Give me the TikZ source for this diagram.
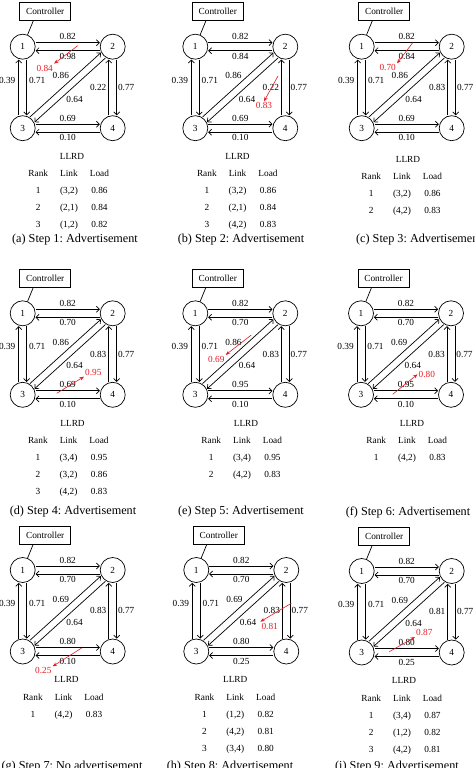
\documentclass[tikz,border=0pt]{standalone}
\usepackage{fontspec}
\setmainfont{Liberation Serif}
\usetikzlibrary{arrows.meta,positioning,matrix}
\frenchspacing

\definecolor{hotred}{RGB}{228,28,36}
\newcommand\smallfont{\fontsize{9.3}{11}\selectfont}
\newcommand\capfont{\fontsize{12.2}{14}\selectfont}

% one snapshot of the network: #1 prefix, #2-#6 the loads that change
\newcommand\stepgraph[6]{%
  \node[station] (#1-1) at (0,0) {1};
  \node[station] (#1-2) at (90,0) {2};
  \node[station] (#1-3) at (0,81.5) {3};
  \node[station] (#1-4) at (90,81.5) {4};
  \node[ctrlbox] (#1-c) at (22.5,-35) {Controller};
  \draw[line width=0.7pt] (#1-1) -- ([xshift=-12pt]#1-c.south);
  \draw[link,transform canvas={yshift=4pt}] (#1-1) -- node[above=1.5pt] {0.82} (#1-2);
  \draw[link,transform canvas={yshift=-4pt}] (#1-2) -- node[below=1pt] {#2} (#1-1);
  \draw[link,transform canvas={xshift=-4pt}] (#1-3) -- node[pos=0.63,left=2pt] {0.39} (#1-1);
  \draw[link,transform canvas={xshift=4pt}] (#1-1) -- node[pos=0.37,right=1pt] {0.71} (#1-3);
  \draw[link,transform canvas={shift={(-2.3pt,2.6pt)}}] (#1-3) -- node[pos=0.57,above left=0pt] {#3} (#1-2);
  \draw[link,transform canvas={shift={(2.3pt,-2.6pt)}}] (#1-2) -- node[pos=0.57,below right=0pt] {0.64} (#1-3);
  \draw[link,transform canvas={xshift=-4pt}] (#1-4) -- node[left=1pt] {#4} (#1-2);
  \draw[link,transform canvas={xshift=4pt}] (#1-2) -- node[right=0pt] {0.77} (#1-4);
  \draw[link,transform canvas={yshift=4pt}] (#1-3) -- node[above=1.5pt] {#5} (#1-4);
  \draw[link,transform canvas={yshift=-4pt}] (#1-4) -- node[below=1pt] {#6} (#1-3);
}

\begin{document}
\begin{tikzpicture}[x=1pt, y=-1pt,
    every node/.style={font=\smallfont, inner sep=1pt},
    station/.style={draw, circle, minimum size=25pt, inner sep=0pt, line width=0.7pt},
    ctrlbox/.style={draw, rectangle, minimum width=51pt, minimum height=18pt, inner sep=0pt, line width=0.7pt},
    link/.style={line width=0.7pt, -{Straight Barb[length=3pt,width=6pt]}},
    hot/.style={text=hotred},
    hotarrow/.style={draw=hotred, line width=0.6pt, -{Stealth[length=4.5pt,width=3.5pt]}},
    cell/.style={inner sep=0pt, text height=7pt, text depth=2pt},
    llrd/.style={matrix of nodes, anchor=north, row sep=8pt, column sep=12pt, nodes={cell}},
    captext/.style={font=\capfont}]
  \useasboundingbox (0,0) rectangle (474,768);

  % (a)
  \begin{scope}[shift={(22.7,46.7)}]
    \stepgraph{a}{0.98}{0.86}{0.22}{0.69}{0.10}
    \coordinate (a-s) at (55,-1);
    \node[hot] (a-v) at (22,21.3) {0.84};
    \draw[hotarrow] (a-s) -- (a-v.north east);
    \matrix[llrd] (a-t) at (46,122) {
      Rank & Link & Load \\
      1 & (3,2) & 0.86 \\
      2 & (2,1) & 0.84 \\
      3 & (1,2) & 0.82 \\};
    \node[cell, above=8pt of a-t-1-2, xshift=3pt] (a-l) {LLRD};
  \end{scope}
  \node[captext] (a-cap) at (75,240) {(a) Step 1: Advertisement};

  % (b)
  \begin{scope}[shift={(195.3,46.7)}]
    \stepgraph{b}{0.84}{0.86}{0.22}{0.69}{0.10}
    \coordinate (b-s) at (82.7,29.3);
    \node[hot] (b-v) at (68.7,59) {0.83};
    \draw[hotarrow] (b-s) -- (b-v.north);
    \matrix[llrd] (b-t) at (42,122) {
      Rank & Link & Load \\
      1 & (3,2) & 0.86 \\
      2 & (2,1) & 0.84 \\
      3 & (4,2) & 0.83 \\};
    \node[cell, above=8pt of b-t-1-2] (b-l) {LLRD};
  \end{scope}
  \node[captext] (b-cap) at (241,240) {(b) Step 2: Advertisement};

  % (c)
  \begin{scope}[shift={(361.7,46.7)}]
    \stepgraph{c}{0.84}{0.86}{0.83}{0.69}{0.10}
    \coordinate (c-s) at (51,-4);
    \node[hot] (c-v) at (26,21) {0.70};
    \draw[hotarrow] (c-s) -- (c-v.north east);
    \matrix[llrd] (c-t) at (40,125) {
      Rank & Link & Load \\
      1 & (3,2) & 0.86 \\
      2 & (4,2) & 0.83 \\};
    \node[cell, above=8pt of c-t-1-2, xshift=6pt] (c-l) {LLRD};
  \end{scope}
  \node[captext] (c-cap) at (419,240) {(c) Step 3: Advertisement};

  % (d)
  \begin{scope}[shift={(22.7,313.3)}]
    \stepgraph{d}{0.70}{0.86}{0.83}{0.69}{0.10}
    \coordinate (d-s) at (34,80);
    \node[hot] (d-v) at (70.6,59) {0.95};
    \draw[hotarrow] (d-s) -- (d-v.south west);
    \matrix[llrd] (d-t) at (45.6,122) {
      Rank & Link & Load \\
      1 & (3,4) & 0.95 \\
      2 & (3,2) & 0.86 \\
      3 & (4,2) & 0.83 \\};
    \node[cell, above=8pt of d-t-1-2, xshift=4pt] (d-l) {LLRD};
  \end{scope}
  \node[captext] (d-cap) at (73,512) {(d) Step 4: Advertisement};

  % (e)
  \begin{scope}[shift={(195.3,313.3)}]
    \stepgraph{e}{0.70}{0.86}{0.83}{0.95}{0.10}
    \coordinate (e-s) at (56,21.7);
    \node[hot] (e-v) at (21,46) {0.69};
    \draw[hotarrow] (e-s) -- (e-v.north east);
    \matrix[llrd] (e-t) at (46.4,122) {
      Rank & Link & Load \\
      1 & (3,4) & 0.95 \\
      2 & (4,2) & 0.83 \\};
    \node[cell, above=8pt of e-t-1-2, xshift=4pt] (e-l) {LLRD};
  \end{scope}
  \node[captext] (e-cap) at (241,512) {(e) Step 5: Advertisement};

  % (f)
  \begin{scope}[shift={(361,313.3)}]
    \stepgraph{f}{0.70}{0.69}{0.83}{0.95}{0.10}
    \coordinate (f-s) at (31.7,81);
    \node[hot] (f-v) at (65.8,61) {0.80};
    \draw[hotarrow] (f-s) -- (f-v.west);
    \matrix[llrd] (f-t) at (45.7,122) {
      Rank & Link & Load \\
      1 & (4,2) & 0.83 \\};
    \node[cell, above=8pt of f-t-1-2, xshift=5pt] (f-l) {LLRD};
  \end{scope}
  \node[captext] (f-cap) at (408,512) {(f) Step 6: Advertisement};

  % (g)
  \begin{scope}[shift={(22.7,570)}]
    \stepgraph{g}{0.70}{0.69}{0.83}{0.80}{0.10}
    \coordinate (g-s) at (59,78);
    \node[hot] (g-v) at (20.6,100.7) {0.25};
    \draw[hotarrow] (g-s) -- (g-v.north east);
    \matrix[llrd] (g-t) at (40.6,122) {
      Rank & Link & Load \\
      1 & (4,2) & 0.83 \\};
    \node[cell, above=8pt of g-t-1-2, xshift=3pt] (g-l) {LLRD};
  \end{scope}
  \node[captext] (g-cap) at (72,767) {(g) Step 7: No advertisement};

  % (h)
  \begin{scope}[shift={(196.3,570)}]
    \stepgraph{h}{0.70}{0.69}{0.83}{0.80}{0.25}
    \coordinate (h-s) at (95,33.3);
    \node[hot] (h-v) at (73.4,56) {0.81};
    \draw[hotarrow] (h-s) -- (h-v.north west);
    \matrix[llrd] (h-t) at (38.7,122) {
      Rank & Link & Load \\
      1 & (1,2) & 0.82 \\
      2 & (4,2) & 0.81 \\
      3 & (3,4) & 0.80 \\};
    \node[cell, above=8pt of h-t-1-2] (h-l) {LLRD};
  \end{scope}
  \node[captext] (h-cap) at (230,767) {(h) Step 8: Advertisement};

  % (i)
  \begin{scope}[shift={(361.7,571)}]
    \stepgraph{i}{0.70}{0.69}{0.81}{0.80}{0.25}
    \coordinate (i-s) at (27.6,80.7);
    \node[hot] (i-v) at (62.6,61.7) {0.87};
    \draw[hotarrow] (i-s) -- (i-v.south west);
    \matrix[llrd] (i-t) at (40,122) {
      Rank & Link & Load \\
      1 & (3,4) & 0.87 \\
      2 & (1,2) & 0.82 \\
      3 & (4,2) & 0.81 \\};
    \node[cell, above=8pt of i-t-1-2, xshift=2pt] (i-l) {LLRD};
  \end{scope}
  \node[captext] (i-cap) at (397,767) {(i) Step 9: Advertisement};
\end{tikzpicture}
\end{document}
